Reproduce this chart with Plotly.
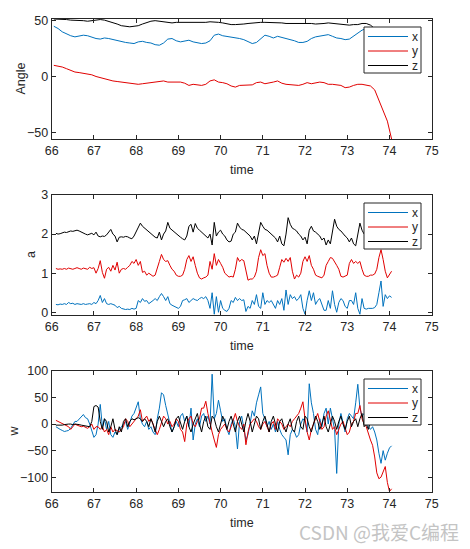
import plotly.graph_objects as go

# sample times (s)
t_angle = [round(66.05 + 0.1 * i, 2) for i in range(81)]
t = [round(66.10 + 0.05 * i, 2) for i in range(160)]

# Angle (deg), every 0.1 s
angle_x = [45, 43, 40, 38, 36.5, 35.5, 36, 37, 36.5, 35,
           34, 33.5, 34.5, 34, 33, 32.5, 31.5, 30.5, 30, 29.5,
           31, 31.5, 30.5, 30, 28.5, 28, 30, 33.5, 34, 32,
           31, 32, 32.5, 31, 30, 29.5, 30, 32, 37, 38,
           36.5, 36, 35.5, 35, 34, 33, 31, 29.5, 30.5, 34,
           37, 36, 34.5, 36, 35, 34, 33.5, 32, 30.5, 30.5,
           31.5, 34, 35.5, 36, 36.5, 37.5, 36, 34.5, 34, 33,
           33.5, 36, 39, 41.5, 43, 43.5, 43, 42.5, 42, 41.5,
           41]
angle_y = [10, 9.5, 8.5, 7, 5.5, 4, 3.5, 3, 2, 1.5,
           0, -1, -2.5, -3.5, -4, -4.5, -5, -5.5, -6.5, -7,
           -7, -6.5, -6, -5.5, -5, -4.5, -4, -5, -5, -4.5,
           -5, -6, -8, -7, -7.5, -8, -7, -4, -3, -5,
           -5.5, -6.5, -8.5, -9.5, -8, -8, -7.5, -7.5, -5.5, -5,
           -6.5, -6, -5, -4, -6, -7, -7.5, -8, -8, -7,
           -5.5, -6.5, -6, -5, -5.5, -7, -7, -7.5, -8, -10,
           -9.5, -8, -7, -7, -7.5, -8.5, -12, -21, -30, -40,
           -56]
angle_z = [51.5, 51.5, 51, 51, 50.5, 50.5, 50, 50, 49.5, 50,
           50.5, 51, 50.5, 49.5, 48.5, 47, 45.5, 45, 44.5, 45,
           45.5, 47, 48.5, 49.5, 50, 49.5, 49, 48.5, 48, 48.5,
           48.5, 48, 48, 48.5, 48, 48, 48.5, 49, 49, 48.5,
           48, 47, 46.5, 46.5, 46.5, 47, 47.5, 48, 48.5, 48.5,
           48.5, 48.5, 48.5, 48.5, 48, 47.5, 47.5, 48, 47.5, 48,
           47.5, 47.5, 47, 47, 47.5, 48, 47.5, 47, 46.5, 46,
           46, 46.5, 46.5, 47.5, 47.5, 46, 43, 41, 40, 39,
           38]

# acceleration a, every 0.05 s
a_x = [0.2, 0.19, 0.21, 0.2, 0.22, 0.2, 0.25, 0.22, 0.23, 0.2,
       0.22, 0.21, 0.2, 0.22, 0.2, 0.21, 0.22, 0.2, 0.25, 0.22,
       0.3, 0.43, 0.25, 0.35, 0.22, 0.2, 0.22, 0.2, 0.18, 0.12,
       0.15, 0.1, 0.08, 0.07, 0.08, 0.07, 0.1, 0.08, 0.1, 0.3,
       0.25, 0.35, 0.28, 0.3, 0.22, 0.25, 0.3, 0.35, 0.3, 0.4,
       0.48, 0.4, 0.3, 0.4, 0.22, 0.18, 0.15, 0.12, 0.1, 0.15,
       0.3, 0.32, 0.35, 0.25, 0.3, 0.35, 0.32, 0.3, 0.35, 0.38,
       0.35, 0.4, 0.3, 0.1, 0.5, -0.05, 0.4, 0.0, 0.3, 0.1,
       0.05, 0.02, 0.1, 0.3, 0.25, 0.38, 0.3, 0.35, 0.3, 0.32,
       0.02, 0.15, 0.1, 0.3, 0.2, 0.45, 0.15, 0.1, 0.5, 0.2,
       0.3, 0.25, 0.3, 0.2, 0.1, 0.3, 0.2, 0.35, 0.05, 0.57,
       0.2, 0.45, 0.35, 0.4, 0.3, 0.35, 0.45, 0.1, -0.05, 0.3,
       0.55, 0.3, 0.5, 0.2, 0.3, 0.35, 0.2, 0.05, 0.05, 0.3,
       0.1, 0.55, 0.2, 0.0, 0.25, 0.35, 0.3, 0.15, 0.1, 0.3,
       0.3, 0.2, 0.5, 0.1, -0.05, 0.35, 0.1, 0.08, 0.1, 0.1,
       0.1, 0.12, 0.2, 0.5, 0.8, 0.15, 0.45, 0.35, 0.42, 0.38]
a_y = [1.12, 1.1, 1.11, 1.1, 1.12, 1.1, 1.13, 1.12, 1.1, 1.12,
       1.14, 1.12, 1.1, 1.13, 1.12, 1.1, 1.15, 1.12, 1.14, 1.0,
       1.12, 1.32, 1.02, 0.87, 1.1, 1.15, 1.05, 1.2, 1.08, 1.28,
       1.0, 1.1, 1.12, 1.1, 1.15, 1.2, 1.3, 1.25, 1.35, 1.2,
       1.3, 1.02, 1.05, 0.95, 1.0, 0.95, 0.92, 0.95, 1.1, 1.3,
       1.48, 1.35, 1.3, 1.32, 1.2, 1.1, 1.05, 0.95, 0.92, 0.92,
       0.95, 1.1, 1.35, 1.45, 1.3, 1.42, 1.2, 1.0, 0.88, 0.85,
       0.88, 0.9, 0.95, 1.3, 1.1, 1.5, 1.2, 1.35, 1.25, 1.15,
       1.0, 0.95, 0.9, 0.92, 0.9, 1.1, 1.4, 1.3, 1.35, 1.32,
       1.1, 0.82, 0.85, 0.85, 0.9, 1.05, 1.4, 1.6, 1.45, 1.5,
       1.2, 1.0, 0.9, 0.9, 0.92, 0.95, 1.15, 1.35, 1.28, 1.38,
       1.3, 1.4, 1.05, 0.85, 0.95, 0.9, 1.0, 1.3, 1.42, 1.3,
       1.45, 1.2, 1.1, 0.95, 0.92, 0.9, 0.88, 0.95, 1.2, 1.3,
       1.4, 1.38, 1.3, 1.2, 1.1, 0.92, 0.9, 0.92, 0.95, 1.25,
       1.35, 1.25, 1.3, 1.25, 1.3, 1.1, 0.95, 0.92, 0.92, 0.95,
       0.95, 0.98, 1.1, 1.4, 1.6, 1.35, 1.05, 0.88, 0.95, 1.05]
a_z = [2.02, 2.0, 2.01, 2.03, 2.05, 2.04, 2.06, 2.08, 2.07, 2.09,
       2.1, 2.08, 2.06, 2.04, 2.0, 1.98, 2.0, 2.02, 1.98, 2.05,
       1.95, 1.93, 1.95, 1.94, 1.98, 2.05, 2.12, 2.0, 1.95, 1.8,
       1.92, 1.93, 1.92, 1.94, 1.93, 1.9, 1.88, 1.95, 2.05, 2.15,
       2.28, 2.2, 2.15, 2.1, 2.05, 2.0, 1.95, 1.92, 1.9, 2.05,
       1.85, 2.0, 2.08, 2.3, 2.15, 2.1, 2.05, 2.0, 1.95, 1.92,
       1.88, 1.85, 1.95, 2.2, 2.25, 2.05, 2.27, 2.15, 2.1, 2.05,
       2.0, 1.95, 1.9, 2.0, 1.72, 2.3, 1.95, 2.05, 2.1, 2.0,
       1.95, 1.85, 1.8, 1.82, 2.0, 2.05, 2.28, 2.18, 2.12, 2.1,
       2.05, 2.0, 1.95, 1.85, 1.95, 1.75, 2.05, 2.3, 2.2, 2.12,
       2.1, 2.05, 2.0, 1.95, 1.9, 1.8, 1.95, 1.75, 1.7, 2.0,
       2.42, 2.25, 2.15, 2.12, 2.08, 2.0, 1.95, 1.85, 1.92, 1.75,
       2.1, 2.2, 2.08, 2.05, 2.0, 1.95, 1.85, 1.9, 1.72, 1.85,
       1.75, 2.05, 2.38, 2.2, 2.12, 2.08, 2.0, 1.95, 1.9, 1.8,
       1.9, 1.75, 1.7, 2.0, 2.28, 2.1, 2.0, 1.95, 1.9, 1.95,
       2.0, 2.05, 2.2, 2.3, 2.1, 2.0, 1.95, 1.98, 2.0, 2.02]

# angular rate w, every 0.05 s
w_x = [-5, -8, -10, -12, -14, -13, -12, -8, -2, 5,
       5, 10, 14, 18, 12, 10, 0, -15, -25, -20,
       0, 37, -5, 10, -10, 5, -20, -25, -15, -20,
       -10, -5, 0, 5, -10, 5, 15, 20, 30, 42,
       10, 0, -5, 5, -10, -5, -15, -20, 10, 30,
       59, 55, 35, 20, 0, -15, -5, 5, -5, 15,
       20, 5, 15, -5, 30, -30, 0, 10, -5, 15,
       20, 5, 15, 0, 94, 10, 20, 45, 25, 5,
       10, -10, -20, 0, 10, -5, -47, 5, 15, -10,
       -30, -20, 5, 25, 15, 40, 55, 70, 20, 10,
       -5, 5, -10, 0, -15, 5, -10, -20, -25, -30,
       -58, -20, -10, -15, -25, -20, 0, 10, 5, -15,
       76, 40, 20, -10, -20, 10, -5, 20, 30, 0,
       30, 10, -10, -93, 0, 20, 5, -15, 10, 20,
       15, 10, 40, 75, 30, 15, 20, 5, -5, -10,
       -5, -15, -30, -55, -74, -50, -68, -55, -45, -41]
w_y = [7, 5, 3, 2, 0, -2, -5, -10, -5, 0,
       -2, -3, -5, -4, -6, -8, -5, 0, -10, -5,
       -5, -10, -5, -15, -10, -20, -5, -15, -10, -12,
       -15, -10, -5, 10, 5, -5, 0, 5, 10, 15,
       27, 5, 10, 15, 5, 10, 0, -10, -20, -10,
       5, 15, 10, 0, 5, -5, 0, 10, 5, -10,
       -15, -33, 0, 10, 15, 0, -5, 5, 10, 30,
       30, 43, 20, 0, -15, -30, -44, -20, -10, -5,
       0, -10, -15, -5, 10, 20, 5, -5, -10, 0,
       -39, -15, 0, 5, 10, 5, -5, -10, 0, 5,
       -5, -15, 0, 5, -10, 10, 5, 0, -10, -5,
       0, -5, 5, 10, 15, 20, 30, 42, 10, -15,
       -30, -10, 0, 10, 20, 5, -10, -5, 15, 25,
       10, -10, -5, -20, -10, 0, 5, -10, -20, -15,
       0, 5, 20, 20, 35, 10, 0, -5, -20, -30,
       -40, -62, -92, -103, -100, -90, -80, -110, -127, -122]
w_z = [-2, -2, -3, -2, -1, 0, 0, 0, -1, 0,
       0, -1, -2, -3, -4, -5, -5, 5, 33, 35,
       32, 5, -10, 10, 5, -15, -5, 10, -10, -20,
       -5, -15, 5, 10, -5, 5, 10, 8, 10, 12,
       10, 5, 10, 5, -5, 10, 0, -15, 5, 15,
       5, -5, 5, 10, -5, -15, -5, 10, 15, 0,
       -10, 5, 15, -5, -15, 0, 10, 20, 0, -15,
       5, 15, -5, -10, 15, 10, -5, -15, 0, 15,
       5, -10, 5, 15, 0, -15, 5, 15, 0, -15,
       5, 20, 5, -15, 0, 15, 10, -10, 5, 15,
       0, -15, 5, 15, 0, -15, 5, 10, -5, -15,
       0, 10, -10, -15, 5, 15, -5, -10, 15, 10,
       -5, -15, 0, 15, 5, -10, 0, 15, -5, -15,
       0, 15, 5, -10, 5, 15, 0, -10, 5, 15,
       -5, 5, 10, -5, 10, 20, -5, 0, -10, 5,
       10, 15, 5, 12, 8, 15, 10, 5, 12, 8]

names = ["x", "y", "z"]
colors = ["#0072BD", "#E00000", "#000000"]
ink = "#262626"
font = "Liberation Sans, Arial, sans-serif"

panels = [
    (t_angle, [angle_x, angle_y, angle_z], "Angle", [-56, 51.5], [-50, 0, 50]),
    (t, [a_x, a_y, a_z], "a", [-0.07, 3], [0, 1, 2, 3]),
    (t, [w_x, w_y, w_z], "w", [-128, 100], [-100, -50, 0, 50, 100]),
]

# the page body has an 8px margin, so the figure is a bit smaller than
# the 470x549 window and every pixel position is shifted by OFF
OFF = 8
W, H = 470 - OFF, 549 - OFF


def px(x):
    return (x - OFF) / W


def py(y):
    return 1 - (y - OFF) / H


def label(text, x, y, **kw):
    # paper-anchored text, centred on (x, y) window pixels unless told otherwise
    opts = dict(xanchor="center", yanchor="middle", size=12.5, color=ink)
    opts.update(kw)
    fig.add_annotation(text=text, xref="paper", yref="paper", x=px(x), y=py(y),
                       xanchor=opts.pop("xanchor"), yanchor=opts.pop("yanchor"),
                       textangle=opts.pop("textangle", 0), showarrow=False,
                       font=opts)


# plot boxes (top, bottom) and legend top in window pixels
boxes = [(19, 139), (195, 315), (371, 492)]
legend_tops = [27, 203, 379]
ylabel_x = [20.5, 31, 13]
x0, x1 = 51.7, 431.7

fig = go.Figure()
for k, (tt, series, ylabel, yr, yt) in enumerate(panels):
    n = "" if k == 0 else str(k + 1)
    for name, vals, c in zip(names, series, colors):
        fig.add_trace(go.Scatter(x=tt, y=vals, name=name, mode="lines",
                                 line=dict(color=c, width=1), showlegend=False,
                                 xaxis="x" + n, yaxis="y" + n))
    top, bot = boxes[k]
    common = dict(showline=True, linecolor=ink, linewidth=1, mirror="ticks",
                  ticks="inside", ticklen=4, tickcolor=ink, showgrid=False,
                  zeroline=False, automargin=False,
                  tickfont=dict(size=12.5, color=ink))
    fig.update_layout({
        "xaxis" + n: dict(domain=[px(x0), px(x1)], range=[66, 75],
                          tickvals=list(range(66, 76)), anchor="y" + n, **common),
        "yaxis" + n: dict(domain=[py(bot), py(top)], range=yr,
                          tickvals=yt, anchor="x" + n, **common),
    })
    label(ylabel, ylabel_x[k], (top + bot) / 2, textangle=-90)
    label("time", 242, bot + 31)

    # compact MATLAB-style legend box
    lt = legend_tops[k]
    fig.add_shape(type="rect", xref="paper", yref="paper",
                  x0=px(364), x1=px(421), y0=py(lt + 46), y1=py(lt),
                  fillcolor="white", line=dict(color=ink, width=1))
    for i, (name, c) in enumerate(zip(names, colors)):
        yy = lt + 9.5 + 14.5 * i
        fig.add_shape(type="line", xref="paper", yref="paper",
                      x0=px(368), x1=px(408), y0=py(yy), y1=py(yy),
                      line=dict(color=c, width=1))
        label(name, 410, yy, xanchor="left", size=12)

label("CSDN @我爱C编程", 461, 531, xanchor="right", size=19, color="#c4c4c4",
      family="Noto Sans CJK SC, Liberation Sans")

fig.update_layout(width=W, height=H, margin=dict(l=0, r=0, t=0, b=0),
                  paper_bgcolor="white", plot_bgcolor="white",
                  font=dict(family=font, color=ink))
fig.write_html("out.html")
